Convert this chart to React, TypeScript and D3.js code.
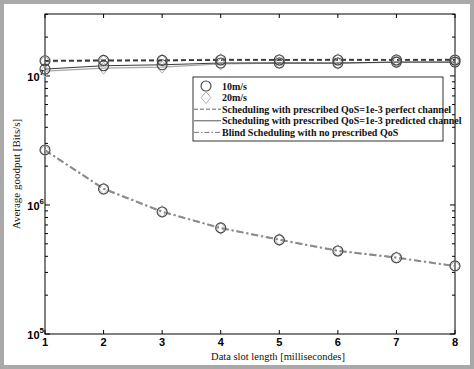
import React from "react"
import * as d3 from "d3"

// slot lengths (ms)
const slots = [1, 2, 3, 4, 5, 6, 7, 8]

// goodput values [Bits/s]
const perfect10 = [1.31e7, 1.32e7, 1.32e7, 1.33e7, 1.33e7, 1.33e7, 1.33e7, 1.33e7]
const perfect20 = [1.3e7, 1.31e7, 1.32e7, 1.34e7, 1.33e7, 1.34e7, 1.33e7, 1.34e7]
const predicted10 = [1.13e7, 1.2e7, 1.22e7, 1.26e7, 1.26e7, 1.26e7, 1.28e7, 1.28e7]
const predicted20 = [1.09e7, 1.15e7, 1.17e7, 1.24e7, 1.26e7, 1.25e7, 1.28e7, 1.28e7]
const blind10 = [2.67e6, 1.33e6, 8.83e5, 6.64e5, 5.36e5, 4.4e5, 3.9e5, 3.37e5]
const blind20 = [2.65e6, 1.34e6, 8.9e5, 6.6e5, 5.4e5, 4.42e5, 3.92e5, 3.35e5]

const yMajor = [1e5, 1e6, 1e7]
const legendLabels = [
    "10m/s",
    "20m/s",
    "Scheduling with prescribed QoS=1e-3 perfect channel",
    "Scheduling with prescribed QoS=1e-3 predicted channel",
    "Blind Scheduling with no prescribed QoS",
]

document.body.style.margin = "0"

const W = 474
const H = 369
const plot = { left: 45, right: 455, top: 14, bottom: 334 }

const DARK = "#3a3a3a"
const LIGHT = "#a8a8a8"

const x = d3.scaleLinear().domain([1, 8]).range([plot.left, plot.right])
const y = d3.scaleLog().domain([1e5, 3.02e7]).range([plot.bottom, plot.top])

const line = d3
    .line<number>()
    .x((_, i) => x(slots[i]))
    .y((d) => y(d))

const seriesList = [
    { data: perfect20, color: LIGHT, dash: "5,3", width: 2, marker: "diamond" },
    { data: predicted20, color: LIGHT, dash: "", width: 1.3, marker: "diamond" },
    { data: blind20, color: "#999", dash: "7,3,2,3", width: 2, marker: "diamond" },
    { data: perfect10, color: DARK, dash: "5,3", width: 1.8, marker: "circle" },
    { data: predicted10, color: DARK, dash: "", width: 1, marker: "circle" },
    { data: blind10, color: "#8a8a8a", dash: "7,3,2,3", width: 1.6, marker: "circle" },
]

function Marker({ kind, cx, cy }: { kind: string; cx: number; cy: number }) {
    if (kind === "circle") {
        return <circle cx={cx} cy={cy} r={5} fill="none" stroke="#444" strokeWidth={1.1} />
    }
    const s = 6
    return (
        <path
            d={`M${cx},${cy - s}L${cx + s * 0.8},${cy}L${cx},${cy + s}L${cx - s * 0.8},${cy}Z`}
            fill="none"
            stroke="#b0b0b0"
            strokeWidth={1}
        />
    )
}

export default function App() {
    const minorTicks: number[] = []
    for (let e = 5; e <= 7; e++) {
        for (let m = 2; m <= 9; m++) {
            const v = m * Math.pow(10, e)
            if (v < 3.02e7) minorTicks.push(v)
        }
    }
    const tickFont = "Arial, 'Liberation Sans', sans-serif"
    const serif = "'Liberation Serif', 'Times New Roman', serif"
    const legX = 193
    const legY = 77
    const rowH = 11.6

    return (
        <svg width={W} height={H} style={{ display: "block" }}>
            <rect x={0} y={0} width={W} height={H} fill="#ffffff" />
            <rect x={2} y={2} width={W - 4} height={H - 4} fill="none" stroke="#a9a9a9" strokeWidth={4} />

            {/* y tick labels drawn first so markers can cover them */}
            {yMajor.map((v) => (
                <text key={v} x={plot.left - 1} y={y(v) + 5} fontFamily={tickFont} fontWeight="bold" fontSize={11} textAnchor="end" fill="#000">
                    10
                    <tspan dy={-6} fontSize={8}>{Math.round(Math.log10(v))}</tspan>
                </text>
            ))}

            {/* axes box */}
            <rect x={plot.left} y={plot.top} width={plot.right - plot.left} height={plot.bottom - plot.top} fill="none" stroke="#000" strokeWidth={1} />

            {/* x ticks */}
            {slots.map((s) => (
                <g key={s}>
                    <line x1={x(s)} x2={x(s)} y1={plot.bottom} y2={plot.bottom - 4} stroke="#000" />
                    <line x1={x(s)} x2={x(s)} y1={plot.top} y2={plot.top + 4} stroke="#000" />
                    <text x={x(s)} y={plot.bottom + 12} fontFamily={tickFont} fontWeight="bold" fontSize={11} textAnchor="middle">
                        {s}
                    </text>
                </g>
            ))}

            {/* y ticks */}
            {yMajor.map((v) => (
                <g key={"M" + v}>
                    <line x1={plot.left} x2={plot.left + 5} y1={y(v)} y2={y(v)} stroke="#000" />
                    <line x1={plot.right} x2={plot.right - 5} y1={y(v)} y2={y(v)} stroke="#000" />
                </g>
            ))}
            {minorTicks.map((v) => (
                <g key={"m" + v}>
                    <line x1={plot.left} x2={plot.left + 3} y1={y(v)} y2={y(v)} stroke="#000" />
                    <line x1={plot.right} x2={plot.right - 3} y1={y(v)} y2={y(v)} stroke="#000" />
                </g>
            ))}

            {/* series */}
            {seriesList.map((s, i) => (
                <path key={"l" + i} d={line(s.data) || ""} fill="none" stroke={s.color} strokeWidth={s.width} strokeDasharray={s.dash} />
            ))}
            {seriesList.map((s, i) =>
                s.data.map((v, j) => <Marker key={"p" + i + "-" + j} kind={s.marker} cx={x(slots[j])} cy={y(v)} />),
            )}

            {/* legend */}
            <rect x={legX} y={legY} width={250} height={64} fill="#fff" stroke="#333" strokeWidth={1} />
            {legendLabels.map((lab, i) => {
                const cy = legY + 9 + i * rowH
                let sample: React.ReactNode = null
                if (i === 0) sample = <Marker kind="circle" cx={legX + 13} cy={cy} />
                else if (i === 1) sample = <Marker kind="diamond" cx={legX + 13} cy={cy} />
                else if (i === 2) sample = <line x1={legX + 1} x2={legX + 28} y1={cy} y2={cy} stroke="#666" strokeDasharray="4,2" />
                else if (i === 3) sample = <line x1={legX + 1} x2={legX + 28} y1={cy} y2={cy} stroke="#555" />
                else sample = <line x1={legX + 1} x2={legX + 28} y1={cy} y2={cy} stroke="#777" strokeDasharray="5,2,1.5,2" />
                return (
                    <g key={lab}>
                        {sample}
                        <text x={legX + 29} y={cy + 3.5} fontFamily={serif} fontWeight="bold" fontSize={10} fill="#111">
                            {lab}
                        </text>
                    </g>
                )
            })}

            {/* axis labels */}
            <text x={(plot.left + plot.right) / 2 + 28} y={360} fontFamily={serif} fontSize={10.5} textAnchor="middle" fill="#111">
                Data slot length [millisecondes]
            </text>
            <text transform={`translate(20,${(plot.top + plot.bottom) / 2}) rotate(-90)`} fontFamily={serif} fontSize={11} textAnchor="middle" fill="#111">
                Average goodput [Bits/s]
            </text>
        </svg>
    )
}
